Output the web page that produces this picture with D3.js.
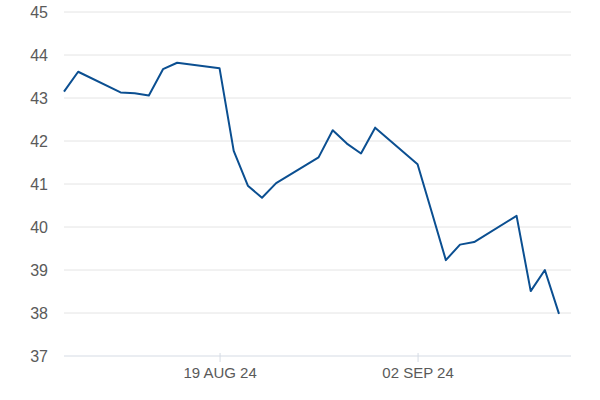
<!DOCTYPE html>
<html>
<head>
<meta charset="utf-8">
<script src="https://cdn.jsdelivr.net/npm/d3@7"></script>
<style>
  body { margin: 0; background: #fff; }
  svg { display: block; }
</style>
</head>
<body>
<svg id="chart" width="600" height="400"></svg>
<script>
const dates = ["2024-08-08","2024-08-09","2024-08-12","2024-08-13","2024-08-14","2024-08-15","2024-08-16",
  "2024-08-19","2024-08-20","2024-08-21","2024-08-22","2024-08-23",
  "2024-08-26","2024-08-27","2024-08-28","2024-08-29","2024-08-30",
  "2024-09-02","2024-09-03","2024-09-04","2024-09-05","2024-09-06",
  "2024-09-09","2024-09-10","2024-09-11","2024-09-12"];
const values = [43.15,43.61,43.13,43.11,43.06,43.67,43.82,
  43.69,41.77,40.96,40.68,41.02,
  41.62,42.25,41.94,41.71,42.31,
  41.46,40.35,39.23,39.59,39.65,
  40.26,38.51,39.00,37.98];
const yTicks = [37,38,39,40,41,42,43,44,45];
const xTickDates = ["2024-08-19","2024-09-02"];
const xTickLabels = ["19 AUG 24","02 SEP 24"];

(function () {
const parse = d3.timeParse("%Y-%m-%d");
const data = dates.map((d,i) => ({date: parse(d), value: values[i]}));

const svg = d3.select("#chart");
const mLeft = 64, mRight = 571, mTop = 12, mBottom = 356;

const x = d3.scaleTime().domain(d3.extent(data, d => d.date)).range([mLeft, 559]);
const y = d3.scaleLinear().domain([37,45]).range([mBottom, mTop]);

// gridlines
svg.append("g").selectAll("line").data(yTicks.slice(1)).join("line")
  .attr("x1", mLeft).attr("x2", mRight)
  .attr("y1", d => y(d)).attr("y2", d => y(d))
  .attr("stroke", "#e4e4e4").attr("stroke-width", 1);

// y labels
svg.append("g").selectAll("text").data(yTicks).join("text")
  .attr("x", 48).attr("y", d => y(d))
  .attr("dy", "0.35em")
  .attr("text-anchor", "end")
  .attr("font-family", "Liberation Sans, Arial, sans-serif")
  .attr("font-size", 16)
  .attr("fill", "#5a5a5a")
  .text(d => d);

// x axis
const xAxis = d3.axisBottom(x)
  .tickValues(xTickDates.map(parse))
  .tickFormat((d,i) => xTickLabels[i])
  .tickSize(6).tickSizeOuter(0).tickPadding(5);
const gx = svg.append("g").attr("transform", `translate(0,${mBottom})`).call(xAxis);
gx.select(".domain").remove();
gx.selectAll(".tick line").attr("stroke", "#d5dbe4").attr("y1", -3).attr("y2", 6);
gx.selectAll(".tick text")
  .attr("font-family", "Liberation Sans, Arial, sans-serif")
  .attr("font-size", 15).attr("fill", "#5a5a5a");
svg.append("line").attr("x1", mLeft).attr("x2", mRight)
  .attr("y1", mBottom).attr("y2", mBottom)
  .attr("stroke", "#d5dbe4").attr("stroke-width", 1);

// line
svg.append("path").datum(data)
  .attr("fill", "none")
  .attr("stroke", "#0b4f91")
  .attr("stroke-width", 2)
  .attr("stroke-linejoin", "round")
  .attr("d", d3.line().x(d => x(d.date)).y(d => y(d.value)));
})();
</script>
</body>
</html>
